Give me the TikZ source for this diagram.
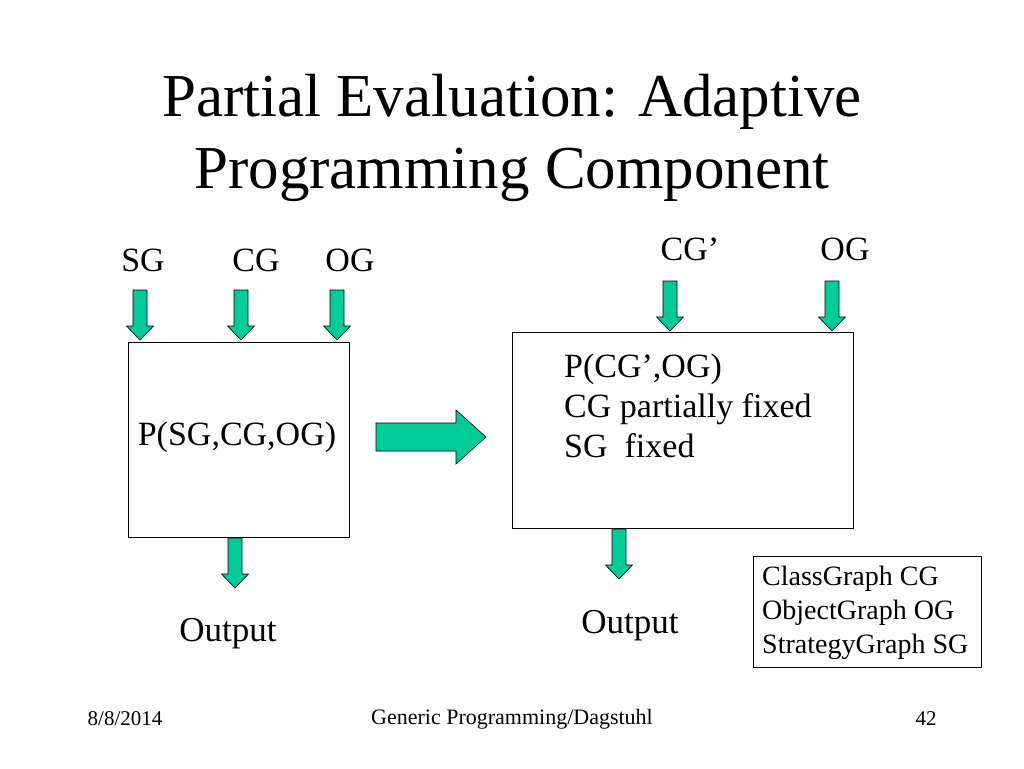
\documentclass[tikz,border=0pt]{standalone}
\usepackage{fontspec}
\setmainfont{Liberation Serif}
\definecolor{ag}{RGB}{0,204,153}
\tikzset{
  arr/.style={draw=black, fill=ag, line width=0.6pt, line join=miter},
  lbl/.style={font=\fontsize{34}{40}\selectfont, inner sep=0pt},
  box/.style={draw=black, line width=0.8pt}
}
% down arrow: tail at (#1,#2), length 50
\newcommand{\darr}[2]{\draw[arr] (#1-7,#2) -- (#1+7,#2) -- (#1+7,#2+36) -- (#1+13.5,#2+36) -- (#1,#2+50) -- (#1-13.5,#2+36) -- (#1-7,#2+36) -- cycle;}
\begin{document}
\begin{tikzpicture}[x=1pt,y=-1pt]
\useasboundingbox (0,0) rectangle (1024,768);
\node[font=\fontsize{61}{72}\selectfont, align=center, inner sep=0pt] (title) at (512,138) {Partial Evaluation: Adaptive\\Programming Component};
\node[lbl] (sg) at (143,260) {SG};
\node[lbl] (cg) at (256,260) {CG};
\node[lbl] (og) at (350,260) {OG};
\node[lbl] (cgp) at (690,249) {CG’};
\node[lbl] (ogp) at (845,249) {OG};
\node[box, minimum width=221pt, minimum height=195pt, anchor=north west, inner sep=0pt] (b1) at (128,342) {};
\node[lbl] (p1) at (237,437) {P(SG,CG,OG)};
\node[box, minimum width=341pt, minimum height=196pt, anchor=north west, inner sep=0pt] (b2) at (512,332) {};
\node[lbl, align=left, anchor=north west, font=\fontsize{34}{40}\selectfont] (p2) at (564,354) {P(CG’,OG)\\CG partially fixed\\SG\ \ fixed};
\darr{140}{290}
\darr{241}{290}
\darr{337}{290}
\darr{670}{281}
\darr{832}{281}
\darr{235}{538}
\darr{619}{529}
\draw[arr] (376,423) -- (456,423) -- (456,410) -- (486,437) -- (456,464) -- (456,451) -- (376,451) -- cycle;
\node[lbl, font=\fontsize{35}{40}\selectfont] (o1) at (228,634) {Output};
\node[lbl, font=\fontsize{35}{40}\selectfont] (o2) at (630,626) {Output};
\node[box, minimum width=228pt, minimum height=111pt, anchor=north west, inner sep=0pt] (leg) at (753,556) {};
\node[align=left, anchor=north west, inner sep=0pt, font=\fontsize{28}{34}\selectfont] (legt) at (762,566) {ClassGraph CG\\ObjectGraph OG\\StrategyGraph SG};
\node[font=\fontsize{21}{24}\selectfont] (d) at (125,719) {8/8/2014};
\node[font=\fontsize{22}{24}\selectfont] (f) at (512,719) {Generic Programming/Dagstuhl};
\node[font=\fontsize{21}{24}\selectfont] (n) at (926,719) {42};
\end{tikzpicture}
\end{document}
